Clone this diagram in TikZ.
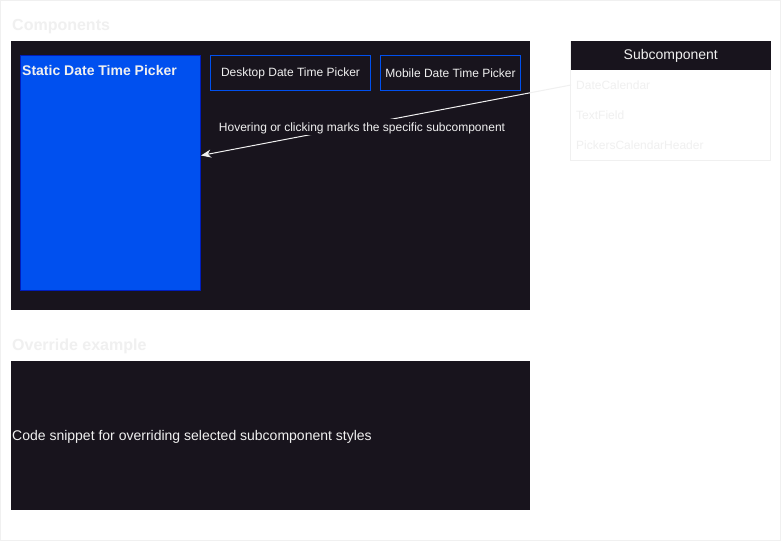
\documentclass[tikz,border=0pt]{standalone}
\usepackage{fontspec}
\setmainfont{Liberation Sans}
\usetikzlibrary{arrows.meta}
\definecolor{panelc}{HTML}{18141D}
\definecolor{softc}{HTML}{F0F0F0}
\definecolor{bluec}{HTML}{0050EF}
\definecolor{blueedge}{HTML}{001DBC}
\newcommand{\pxfont}[1]{\fontsize{#1}{#1}\selectfont}
\newcommand{\lowertext}[1]{\raisebox{-0.7pt}[\height][\depth]{#1}}
\tikzset{
  x=1pt,y=-1pt,
  panel/.style={rectangle,inner sep=0pt,outer sep=0pt,anchor=north west,fill=panelc,draw=none},
  heading/.style={anchor=base west,inner sep=0pt,text=softc,font=\pxfont{16}\bfseries},
  tab/.style={rectangle,inner sep=0pt,outer sep=0pt,anchor=north west,draw=bluec,line width=1pt,fill=panelc,text=softc,font=\pxfont{12},align=center},
  rowtext/.style={anchor=base west,inner sep=0pt,text=softc,font=\pxfont{12}},
  conn/.style={draw=softc,line width=1pt,-{Stealth[length=10pt,width=8pt,inset=3pt]}}
}
\begin{document}
\begin{tikzpicture}
\useasboundingbox (0,0) rectangle (781,541);
\node[rectangle,anchor=north west,inner sep=0pt,outer sep=0pt,draw=softc,line width=1pt,fill=white,minimum width=780pt,minimum height=540pt] (frame) at (0.5,0.5) {};
\node[heading] (title1) at (12,30) {Components};
\node[panel,minimum width=519pt,minimum height=269pt] (panel1) at (11,41) {};
\node[rectangle,anchor=north west,inner sep=0pt,outer sep=0pt,draw=blueedge,line width=1pt,fill=bluec,minimum width=180pt,minimum height=235pt] (staticbox) at (20.5,55.5) {};
\node[anchor=base west,inner sep=0pt,text=softc,font=\pxfont{14}\bfseries] (statictext) at (22,75) {Static Date Time Picker};
\node[tab,minimum width=160pt,minimum height=35pt] (desktop) at (210.5,55.5) {\lowertext{Desktop Date Time Picker}};
\node[tab,minimum width=140pt,minimum height=35pt] (mobile) at (380.5,55.5) {\lowertext{Mobile Date Time Picker}};
\node[rectangle,anchor=north west,inner sep=0pt,outer sep=0pt,draw=softc,line width=1pt,fill=white,minimum width=200pt,minimum height=119.5pt] (table) at (570.5,41) {};
\node[panel,minimum width=199.5pt,minimum height=29pt,text=softc,font=\pxfont{14}] (tablehead) at (571,41) {\lowertext{Subcomponent}};
\node[rowtext] (row1) at (576,89) {DateCalendar};
\node[rowtext] (row2) at (576,119) {TextField};
\node[rowtext] (row3) at (576,149) {PickersCalendarHeader};
\coordinate (from) at (571,85);
\coordinate (to) at (201,155.5);
\draw[conn] (from) -- (to);
\node[rectangle,fill=panelc,inner sep=0pt,minimum width=95pt,minimum height=15.2pt] (notebg) at (350,127) {};
\node[anchor=base,inner sep=0pt,text=softc,font=\pxfont{12}] (note) at (362,131) {Hovering or clicking marks the specific subcomponent};
\node[heading] (title2) at (12,350) {Override example};
\node[panel,minimum width=519pt,minimum height=149pt] (panel2) at (11,361) {};
\node[anchor=base west,inner sep=0pt,text=softc,font=\pxfont{14}] (code) at (12,440) {Code snippet for overriding selected subcomponent styles};
\end{tikzpicture}
\end{document}
